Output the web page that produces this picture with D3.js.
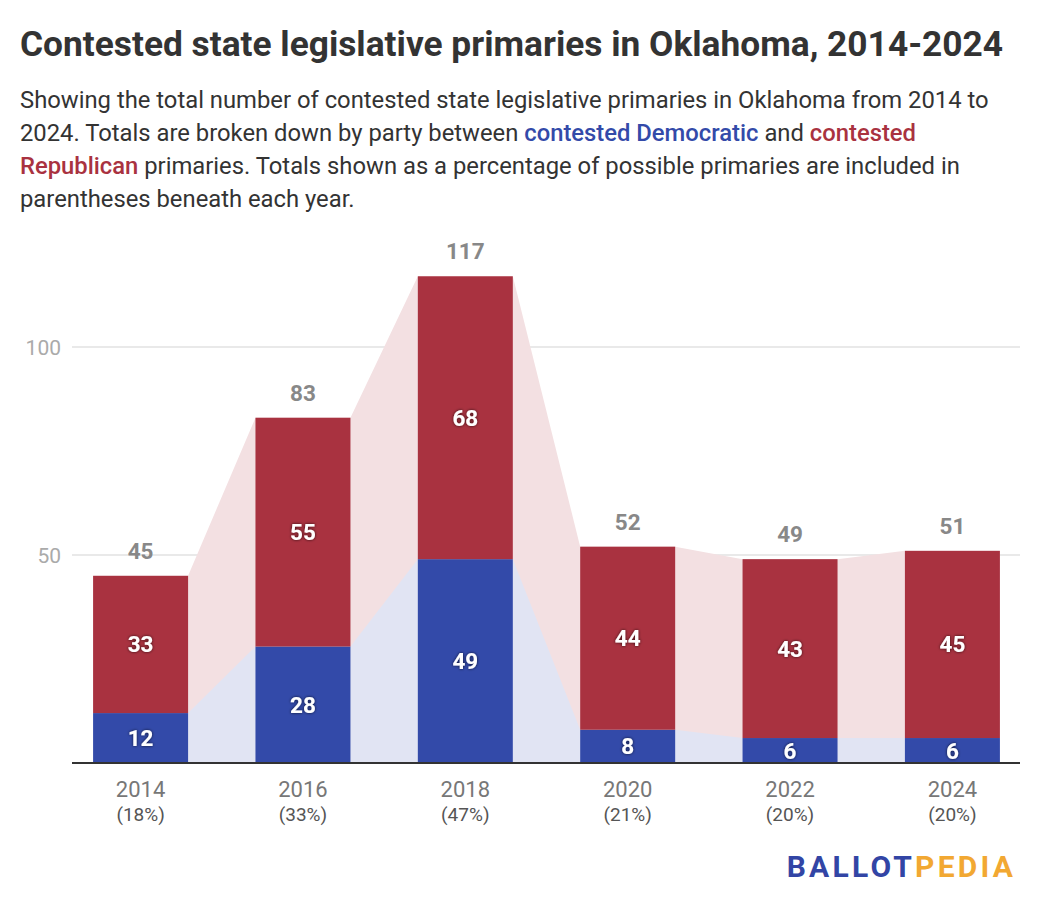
<html>
<head>
<script src="https://d3js.org/d3.v7.min.js"></script>
<style>
body {
    margin: 0;
    padding: 0;
    background: #fff;
    font-family: Roboto, sans-serif;
}
svg text {
    font-family: Roboto, sans-serif;
}
</style>
</head>
<body>
<script>
var years = ["2014", "2016", "2018", "2020", "2022", "2024"];
var dem = [12, 28, 49, 8, 6, 6];
var rep = [33, 55, 68, 44, 43, 45];
var pct = ["(18%)", "(33%)", "(47%)", "(21%)", "(20%)", "(20%)"];
var yTicks = [50, 100];

var W = 1040, H = 912;
var red = "#a93240", blue = "#334aa9";

var data = years.map(function (y, i) {
    return {year: y, dem: dem[i], rep: rep[i], total: dem[i] + rep[i], pct: pct[i]};
});

var svg = d3.select("body").append("svg")
    .attr("width", W)
    .attr("height", H);

var defs = svg.append("defs");
var f = defs.append("filter").attr("id", "shadow")
    .attr("x", "-30%").attr("y", "-30%").attr("width", "160%").attr("height", "160%");
f.append("feDropShadow").attr("dx", 0).attr("dy", 0).attr("stdDeviation", 1.6)
    .attr("flood-color", "#000").attr("flood-opacity", 0.75);

// title + description
svg.append("text")
    .attr("x", 20).attr("y", 56)
    .attr("font-size", 35.3).attr("font-weight", 700).attr("fill", "#333")
    .text("Contested state legislative primaries in Oklahoma, 2014-2024");

var desc = [
    [["Showing the total number of contested state legislative primaries in Oklahoma from 2014 to", "#333"]],
    [["2024. Totals are broken down by party between ", "#333"], ["contested Democratic", blue, 500], [" and ", "#333"], ["contested", red, 500]],
    [["Republican", red, 500], [" primaries. Totals shown as a percentage of possible primaries are included in", "#333"]],
    [["parentheses beneath each year.", "#333"]]
];
desc.forEach(function (line, i) {
    var t = svg.append("text")
        .attr("x", 20).attr("y", 108 + i * 33)
        .attr("font-size", 23.8);
    line.forEach(function (p) {
        t.append("tspan").attr("fill", p[1]).attr("font-weight", p[2] || 400).text(p[0]);
    });
});

// scales
var x = d3.scaleBand().domain(years).range([72, 1021]).paddingInner(0.415).paddingOuter(0.13);
var y = d3.scaleLinear().domain([0, 100]).range([763, 347]);

// gridlines
var grid = svg.append("g");
grid.selectAll("line").data(yTicks).enter().append("line")
    .attr("x1", 72).attr("x2", 1020)
    .attr("y1", function (d) { return y(d); })
    .attr("y2", function (d) { return y(d); })
    .attr("stroke", "#e2e2e2").attr("stroke-width", 1.5);
grid.selectAll("text").data(yTicks).enter().append("text")
    .attr("x", 61).attr("y", function (d) { return y(d) + 7.5; })
    .attr("text-anchor", "end")
    .attr("font-size", 21).attr("fill", "#aaa")
    .text(function (d) { return d; });

// connector areas
var pts = [];
data.forEach(function (d) {
    pts.push({x: x(d.year), d: d});
    pts.push({x: x(d.year) + x.bandwidth(), d: d});
});
var areaTotal = d3.area()
    .x(function (p) { return p.x; })
    .y0(y(0))
    .y1(function (p) { return y(p.d.total); });
var areaDem = d3.area()
    .x(function (p) { return p.x; })
    .y0(y(0))
    .y1(function (p) { return y(p.d.dem); });
svg.append("path").attr("d", areaTotal(pts)).attr("fill", "#f3e0e2");
svg.append("path").attr("d", areaDem(pts)).attr("fill", "#e1e4f3");

// bars
var bars = svg.append("g").selectAll("g").data(data).enter().append("g");
bars.append("rect")
    .attr("x", function (d) { return x(d.year); })
    .attr("width", x.bandwidth())
    .attr("y", function (d) { return y(d.dem); })
    .attr("height", function (d) { return y(0) - y(d.dem); })
    .attr("fill", blue);
bars.append("rect")
    .attr("x", function (d) { return x(d.year); })
    .attr("width", x.bandwidth())
    .attr("y", function (d) { return y(d.total); })
    .attr("height", function (d) { return y(d.dem) - y(d.total); })
    .attr("fill", red);

function cx(d) { return x(d.year) + x.bandwidth() / 2; }

bars.append("text")
    .attr("x", cx)
    .attr("y", function (d) { return (y(0) + y(d.dem)) / 2 + 8; })
    .attr("text-anchor", "middle").attr("font-size", 22.5).attr("font-weight", 700)
    .attr("fill", "#fff").attr("filter", "url(#shadow)")
    .text(function (d) { return d.dem; });
bars.append("text")
    .attr("x", cx)
    .attr("y", function (d) { return (y(d.dem) + y(d.total)) / 2 + 8; })
    .attr("text-anchor", "middle").attr("font-size", 22.5).attr("font-weight", 700)
    .attr("fill", "#fff").attr("filter", "url(#shadow)")
    .text(function (d) { return d.rep; });
bars.append("text")
    .attr("x", cx)
    .attr("y", function (d) { return y(d.total) - 17; })
    .attr("text-anchor", "middle").attr("font-size", 22.5).attr("font-weight", 700)
    .attr("fill", "#888")
    .text(function (d) { return d.total; });

// axis
svg.append("line")
    .attr("x1", 72).attr("x2", 1020)
    .attr("y1", y(0)).attr("y2", y(0))
    .attr("stroke", "#333").attr("stroke-width", 2);

var xl = svg.append("g").selectAll("g").data(data).enter().append("g");
xl.append("text")
    .attr("x", cx).attr("y", 797)
    .attr("text-anchor", "middle").attr("font-size", 22).attr("fill", "#777")
    .text(function (d) { return d.year; });
xl.append("text")
    .attr("x", cx).attr("y", 821)
    .attr("text-anchor", "middle").attr("font-size", 19).attr("fill", "#555")
    .text(function (d) { return d.pct; });

// logo
var logo = svg.append("text")
    .attr("x", 1016).attr("y", 877)
    .attr("text-anchor", "end")
    .attr("font-size", 30).attr("font-weight", 700)
    .attr("letter-spacing", 3.2);
logo.append("tspan").attr("fill", "#3245a5").text("BALLOT");
logo.append("tspan").attr("fill", "#f2a832").text("PEDIA");
</script>
</body>
</html>
